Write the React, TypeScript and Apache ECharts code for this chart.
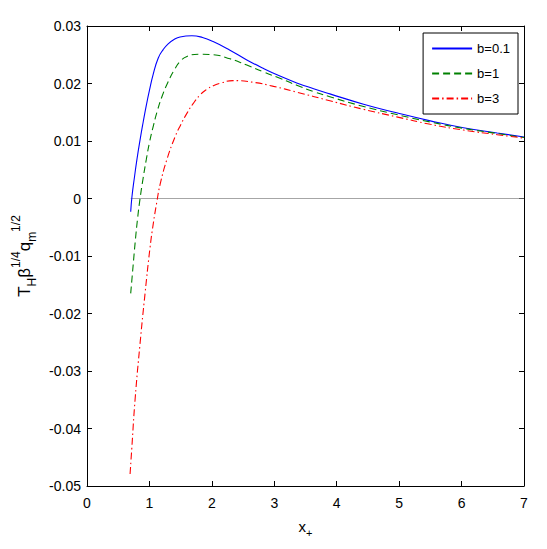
import { useEffect, useRef } from "react";
import * as echarts from "echarts";

// 곡선 값은 그림에서 읽은 추정치.
const legendNames = ["b=0.1", "b=1", "b=3"];

const b01X = [0.7, 0.72, 0.76, 0.8, 0.85, 0.9, 0.95, 1.0, 1.06, 1.14, 1.22, 1.3, 1.4, 1.49, 1.68, 1.85, 2.02, 2.29, 2.56, 2.83, 3.09, 3.36, 3.63, 3.89, 4.43, 4.96, 5.5, 6.03, 6.57, 7.0];
const b01Y = [-0.0023, 0.0003, 0.0037, 0.0068, 0.0102, 0.0133, 0.0162, 0.0188, 0.0216, 0.0244, 0.0259, 0.0269, 0.0277, 0.0281, 0.0283, 0.028, 0.0273, 0.0258, 0.0241, 0.0226, 0.0213, 0.0201, 0.0191, 0.0182, 0.0164, 0.0149, 0.0135, 0.0123, 0.0114, 0.0107];

const b1X = [0.7, 0.74, 0.77, 0.81, 0.85, 0.9, 0.95, 1.0, 1.06, 1.12, 1.2, 1.3, 1.4, 1.49, 1.6, 1.81, 2.02, 2.29, 2.56, 2.83, 3.09, 3.36, 3.63, 3.89, 4.43, 4.96, 5.5, 6.03, 6.57, 7.0];
const b1Y = [-0.0165, -0.0115, -0.0078, -0.0035, 0.0, 0.0036, 0.0068, 0.0097, 0.0125, 0.015, 0.0177, 0.0203, 0.0224, 0.0238, 0.0247, 0.0251, 0.025, 0.0243, 0.0232, 0.022, 0.0209, 0.0197, 0.0186, 0.0177, 0.016, 0.0146, 0.0133, 0.0122, 0.0113, 0.0106];

const b3X = [0.69, 0.716, 0.77, 0.85, 0.93, 1.01, 1.06, 1.12, 1.17, 1.28, 1.41, 1.5, 1.6, 1.7, 1.81, 1.92, 2.02, 2.15, 2.34, 2.67, 2.99, 3.36, 3.89, 4.43, 4.96, 5.5, 6.03, 6.57, 7.0];
const b3Y = [-0.0479, -0.0437, -0.035, -0.0252, -0.0165, -0.0085, -0.0045, -0.0005, 0.0024, 0.0068, 0.0107, 0.0128, 0.0148, 0.0165, 0.018, 0.019, 0.0196, 0.0201, 0.0205, 0.0202, 0.0195, 0.0185, 0.017, 0.0155, 0.0142, 0.0129, 0.0119, 0.0111, 0.0105];

const zeroLineX = [0.7, 7];
const zeroLineY = [0, 0];

const xMin = 0;
const xMax = 7;
const xStep = 1;
const yMin = -0.05;
const yMax = 0.03;
const yStep = 0.01;

const FONT = "'Liberation Sans', Arial, Helvetica, sans-serif";

const zip = (xs: number[], ys: number[]) => xs.map((x, i) => [x, ys[i]]);

const axisBase = {
  axisLine: { onZero: false, lineStyle: { color: "#000", width: 1 } },
  axisTick: { inside: true, length: 5, lineStyle: { color: "#000" } },
  splitLine: { show: false },
};

export default function App() {
  const box = useRef<HTMLDivElement>(null);

  useEffect(() => {
    if (!box.current) return;
    const c = echarts.init(box.current, undefined, { renderer: "svg" });
    const label = { color: "#000", fontSize: 14, fontFamily: FONT };
    c.setOption({
      animation: false,
      backgroundColor: "#fff",
      grid: { left: 87, right: 23, top: 26, bottom: 63 },
      legend: {
        data: legendNames,
        orient: "vertical",
        right: 29,
        top: 33,
        itemWidth: 40,
        itemHeight: 14,
        itemGap: 12,
        padding: [9, 8, 9, 8],
        borderColor: "#000",
        borderWidth: 1,
        borderRadius: 0,
        backgroundColor: "#fff",
        itemStyle: { opacity: 0 },
        textStyle: { color: "#000", fontSize: 13, fontFamily: FONT },
      },
      xAxis: [
        {
          ...axisBase,
          type: "value",
          min: xMin,
          max: xMax,
          interval: xStep,
          position: "bottom",
          axisLabel: { ...label, margin: 10 },
          name: "{n|x}{sub|+}",
          nameLocation: "middle",
          nameGap: 28,
          nameTextStyle: {
            fontFamily: FONT,
            color: "#000",
            rich: {
              n: { fontSize: 15, fontFamily: FONT, color: "#000", lineHeight: 24, verticalAlign: "middle" },
              sub: { fontSize: 11, fontFamily: FONT, color: "#000", verticalAlign: "bottom" },
            },
          },
        },
        { ...axisBase, type: "value", min: xMin, max: xMax, interval: xStep, position: "top", axisLabel: { show: false } },
      ],
      yAxis: [
        {
          ...axisBase,
          type: "value",
          min: yMin,
          max: yMax,
          interval: yStep,
          position: "left",
          axisLabel: {
            ...label,
            margin: 6,
            formatter: (v: number) => (Math.abs(v) < 1e-9 ? "0" : v.toFixed(2)),
          },
          name: "{n|T}{sub|H}{n|β}{sup|1/4}{n|q}{sub|m}{sup|1/2}",
          nameLocation: "middle",
          nameRotate: 90,
          nameGap: 42,
          nameTextStyle: {
            fontFamily: FONT,
            color: "#000",
            rich: {
              n: { fontSize: 17, fontFamily: FONT, color: "#000", lineHeight: 28, verticalAlign: "middle" },
              sub: { fontSize: 12, fontFamily: FONT, color: "#000", verticalAlign: "bottom" },
              sup: { fontSize: 12, fontFamily: FONT, color: "#000", verticalAlign: "top" },
            },
          },
        },
        { ...axisBase, type: "value", min: yMin, max: yMax, interval: yStep, position: "right", axisLabel: { show: false } },
      ],
      series: [
        {
          name: "zero",
          type: "line",
          data: zip(zeroLineX, zeroLineY),
          symbol: "none",
          silent: true,
          lineStyle: { color: "#808080", width: 0.7 },
          z: 1,
        },
        {
          name: legendNames[0],
          type: "line",
          data: zip(b01X, b01Y),
          symbol: "none",
          smooth: 0.5,
          lineStyle: { color: "#0000ff", width: 1.1 },
          itemStyle: { color: "#0000ff" },
          z: 3,
        },
        {
          name: legendNames[1],
          type: "line",
          data: zip(b1X, b1Y),
          symbol: "none",
          smooth: 0.5,
          lineStyle: { color: "#008000", width: 1.1, type: [7, 4] },
          itemStyle: { color: "#008000" },
          z: 3,
        },
        {
          name: legendNames[2],
          type: "line",
          data: zip(b3X, b3Y),
          symbol: "none",
          smooth: 0.5,
          lineStyle: { color: "#ff0000", width: 1.1, type: [7, 3, 1.5, 3] },
          itemStyle: { color: "#ff0000" },
          z: 3,
        },
      ],
    });
    return () => c.dispose();
  }, []);

  return (
    <div
      ref={box}
      style={{ position: "fixed", left: 0, top: 0, width: 547, height: 549, background: "#fff" }}
    />
  );
}
